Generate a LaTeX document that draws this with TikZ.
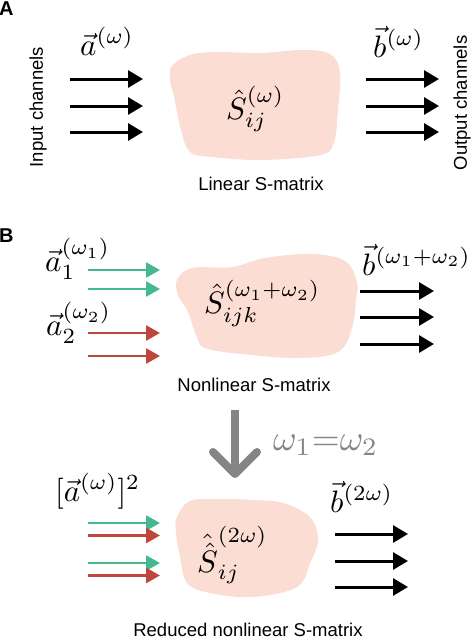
\documentclass[tikz,border=0pt]{standalone}
\usepackage{fontspec}
\setmainfont{Liberation Sans}
\usetikzlibrary{arrows.meta}
\definecolor{blobc}{HTML}{FBDDD4}
\definecolor{grn}{HTML}{45B892}
\definecolor{rd}{HTML}{C0463D}
\definecolor{gry}{HTML}{858585}
\newcommand{\mlbl}[2][3.1]{\scalebox{#1}{$#2$}}
\tikzset{
  arr/.style={line width=3pt, -{Triangle[length=15pt,width=17pt]}},
  carr/.style={line width=2.7pt, -{Triangle[length=14pt,width=15pt]}},
  mathlbl/.style={inner sep=0pt, anchor=base west},
  caption/.style={font=\fontsize{18.5}{22}\selectfont, inner sep=0pt},
  blob/.style={fill=blobc},
  panel/.style={font=\fontsize{20}{22}\selectfont\bfseries, inner sep=0pt, anchor=base west},
  bigarrow/.style={draw=gry, line width=8pt}
}
\begin{document}
\begin{tikzpicture}[x=1pt,y=-1pt]
\useasboundingbox (0,0) rectangle (474,637);
% ---------- Panel A ----------
\node[panel] (lA) at (-1,15) {A};
\fill[blob] plot[smooth cycle, tension=0.6] coordinates {(172,66) (190,55) (215,52) (260,53) (303,50) (330,54) (340,72) (338,110) (334,142) (320,155) (262,160) (212,157) (190,152) (181,130) (174,97) (170,80)};
\node[mathlbl] (SA) at (226,119) {\mlbl{\hat S^{(\omega)}_{ij}}};
\node[caption, anchor=base] (capA) at (261,190) {Linear S-matrix};
\node[caption, rotate=90] (inch) at (38,107) {Input channels};
\node[caption, rotate=90] (outch) at (462,103) {Output channels};
\node[mathlbl] (aA) at (80,55) {\mlbl{\vec a^{(\omega)}}};
\node[mathlbl] (bA) at (373,57) {\mlbl{\vec b^{(\omega)}}};
\foreach \y [count=\i] in {79,106,132} {
  \coordinate (ai\i s) at (70,\y); \coordinate (ai\i e) at (143,\y);
  \draw[arr] (ai\i s) -- (ai\i e);
  \coordinate (ao\i s) at (366,\y); \coordinate (ao\i e) at (439,\y);
  \draw[arr] (ao\i s) -- (ao\i e);
}
% ---------- Panel B ----------
\node[panel] (lB) at (-1,242) {B};
\fill[blob] plot[smooth cycle, tension=0.6] coordinates {(177,280) (192,268) (232,267) (265,258) (312,254) (345,261) (357,282) (356,300) (352,328) (338,352) (298,358) (242,354) (205,348) (196,335) (188,312) (178,295)};
\node[mathlbl] (SB) at (204,313) {\mlbl{\hat S^{(\omega_1+\omega_2)}_{ijk}}};
\node[caption, anchor=base] (capB) at (254,391) {Nonlinear S-matrix};
\node[mathlbl] (a1) at (45,271) {\mlbl{\vec a_1^{(\omega_1)}}};
\node[mathlbl] (a2) at (46,335) {\mlbl{\vec a_2^{(\omega_2)}}};
\node[mathlbl] (bB) at (362,275) {\mlbl{\vec b^{(\omega_1+\omega_2)}}};
\foreach \y [count=\i] in {270,289} {
  \coordinate (g\i s) at (88,\y); \coordinate (g\i e) at (160,\y);
  \draw[carr, grn] (g\i s) -- (g\i e);
}
\foreach \y [count=\i] in {333,356} {
  \coordinate (r\i s) at (88,\y); \coordinate (r\i e) at (160,\y);
  \draw[carr, rd] (r\i s) -- (r\i e);
}
\foreach \y [count=\i] in {291,317,344} {
  \coordinate (bo\i s) at (360,\y); \coordinate (bo\i e) at (434,\y);
  \draw[arr] (bo\i s) -- (bo\i e);
}
% ---------- reduction arrow ----------
\coordinate (dtop) at (235,410);
\coordinate (dtip) at (235,474);
\coordinate (dl) at (213,452);
\coordinate (dr) at (257,452);
\draw[bigarrow] (dtop) -- (dtip);
\draw[bigarrow, line cap=round, line join=round] (dl) -- (dtip) -- (dr);
\node[mathlbl, text=gry] (cond) at (273,450) {\mlbl[3.6]{\omega_1{=}\omega_2}};
% ---------- Reduced ----------
\fill[blob] plot[smooth cycle, tension=0.6] coordinates {(177,517) (190,501) (220,499) (253,500) (283,503) (310,517) (318,540) (310,563) (297,587) (253,597) (210,593) (187,583) (180,557) (176,533)};
\node[mathlbl] (SC) at (197,572) {\mlbl{\hat{\hat S}^{(2\omega)}_{ij}}};
\node[mathlbl] (aC) at (55,501) {\mlbl{[\vec a^{(\omega)}]^2}};
\node[mathlbl] (bC) at (330,512) {\mlbl{\vec b^{(2\omega)}}};
\node[caption, anchor=base] (capC) at (248,636.5) {Reduced nonlinear S-matrix};
\foreach \y [count=\i] in {523,563} {
  \coordinate (cg\i s) at (88,\y); \coordinate (cg\i e) at (160,\y);
  \draw[carr, grn] (cg\i s) -- (cg\i e);
  \coordinate (cr\i s) at (88,\y+12.5); \coordinate (cr\i e) at (160,\y+12.5);
  \draw[carr, rd] (cr\i s) -- (cr\i e);
}
\foreach \y [count=\i] in {534,561,587} {
  \coordinate (co\i s) at (335,\y); \coordinate (co\i e) at (408,\y);
  \draw[arr] (co\i s) -- (co\i e);
}
\end{tikzpicture}
\end{document}
